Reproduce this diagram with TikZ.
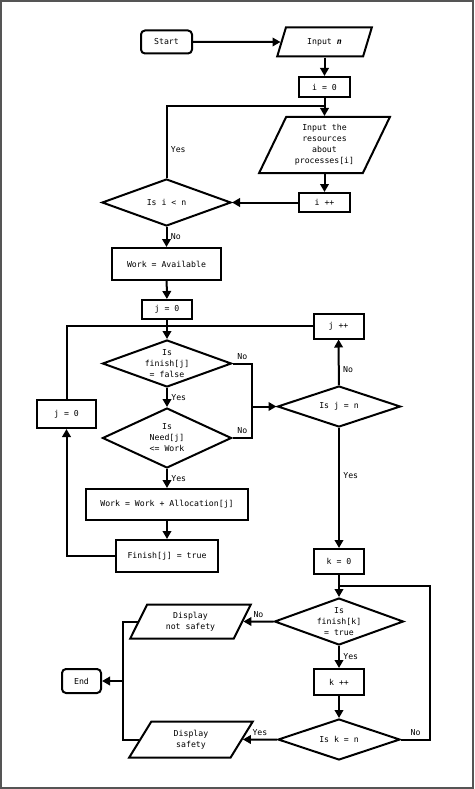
\documentclass[tikz,border=0pt]{standalone}
\usepackage{fontspec}
\setmainfont{DejaVu Sans Mono}
\usetikzlibrary{shapes.geometric, arrows.meta}
\definecolor{frameGray}{RGB}{85,85,85}

\begin{document}
\begin{tikzpicture}[
    x=1pt, y=-1pt,
    font=\fontsize{8.2}{11}\selectfont,
    terminal/.style={
        rectangle,
        rounded corners=4pt,
        draw,
        line width=2pt,
        inner sep=0pt,
        minimum height=23pt
    },
    process/.style={
        rectangle,
        draw,
        line width=2pt,
        inner sep=0pt,
        align=center
    },
    io/.style={
        trapezium,
        trapezium left angle=63,
        trapezium right angle=117,
        trapezium stretches=true,
        draw,
        line width=2pt,
        inner sep=0pt,
        align=center
    },
    decision/.style={
        diamond,
        aspect=2.7,
        draw,
        line width=2pt,
        inner sep=0pt,
        align=center
    },
    flow/.style={line width=2pt, -{Triangle[length=8pt, width=8.5pt]}},
    link/.style={line width=2pt}
]
    \useasboundingbox (0,0) rectangle (474,789);
    \draw[frameGray, line width=2.4] (1.2,1.2) rectangle (472.8,787.8);

    % Reading the input
    \node[terminal, minimum width=51] (start) at (166.5,42) {Start};
    \node[io, minimum width=95, minimum height=29] (inputn) at (324.5,42) {Input \textbf{\textit{n}}};
    \node[process, minimum width=51, minimum height=20] (izero) at (324.5,87) {i = 0};
    \node[io, minimum width=131, minimum height=56] (inres) at (324.5,145) {Input the\\resources\\about\\processes[i]};
    \node[process, minimum width=51, minimum height=19] (iinc) at (324.5,202.5) {i ++};
    \node[decision, minimum width=129, minimum height=47] (ilt) at (166.5,202.5) {Is i < n};

    % Safety loop over j
    \node[process, minimum width=109, minimum height=32] (workav) at (166.5,264) {Work = Available};
    \node[process, minimum width=50, minimum height=19] (jzero) at (167,309.5) {j = 0};
    \node[process, minimum width=50, minimum height=25] (jinc) at (338.5,326) {j ++};
    \node[decision, minimum width=129, minimum height=47] (finj) at (167,363.5) {Is\\finish[j]\\= false};
    \node[decision, minimum width=123, minimum height=41] (jeqn) at (339,406.5) {Is j = n};
    \node[decision, minimum width=129, minimum height=60] (needj) at (167,438) {Is\\Need[j]\\<= Work};
    \node[process, minimum width=162, minimum height=31] (workadd) at (167,504.5) {Work = Work + Allocation[j]};
    \node[process, minimum width=102, minimum height=32] (finset) at (167,556) {Finish[j] = true};
    \node[process, minimum width=59, minimum height=28] (jreset) at (66.5,414) {j = 0};

    % Checking every k
    \node[process, minimum width=50, minimum height=25] (kzero) at (339,561.5) {k = 0};
    \node[decision, minimum width=129, minimum height=47] (fink) at (339,621.5) {Is\\finish[k]\\= true};
    \node[io, minimum width=121, minimum height=34] (notsafe) at (190.5,621.5) {Display\\not safety};
    \node[process, minimum width=50, minimum height=26] (kinc) at (339,682) {k ++};
    \node[decision, minimum width=122, minimum height=41] (keqn) at (339,739.5) {Is k = n};
    \node[io, minimum width=124, minimum height=36] (safe) at (191,739.5) {Display\\safety};
    \node[terminal, minimum width=39, minimum height=24] (finish) at (81.5,681) {End};

    % Junctions
    \coordinate (iloop) at (324.5,106);
    \coordinate (jloop) at (167,326);
    \coordinate (jmerge) at (252,406.5);
    \coordinate (kloop) at (339,586);
    \coordinate (kright) at (430,586);
    \coordinate (endjoin) at (123,681);

    % Connectors
    \draw[flow] (start) -- (inputn);
    \draw[flow] (inputn) -- (izero);
    \draw[flow] (izero) -- (inres);
    \draw[flow] (inres) -- (iinc);
    \draw[flow] (iinc) -- (ilt);
    \draw[link] (ilt) |- node[pos=0.2, right] {Yes} (iloop);
    \draw[flow] (ilt) -- node[right] {No} (workav);
    \draw[flow] (workav) -- (jzero);
    \draw[flow] (jzero) -- (finj);
    \draw[link] (jinc) -- (jloop);
    \draw[link] (jreset) |- (jloop);
    \draw[link] (finj) -| node[pos=0.25, above] {No} (jmerge);
    \draw[link] (needj) -| node[pos=0.25, above] {No} (jmerge);
    \draw[flow] (jmerge) -- (jeqn);
    \draw[flow] (jeqn) -- node[pos=0.35, right] {No} (jinc);
    \draw[flow] (jeqn) -- node[pos=0.4, right] {Yes} (kzero);
    \draw[flow] (finj) -- node[right] {Yes} (needj);
    \draw[flow] (needj) -- node[right] {Yes} (workadd);
    \draw[flow] (workadd) -- (finset);
    \draw[flow] (finset) -| (jreset);
    \draw[flow] (kzero) -- (fink);
    \draw[flow] (fink) -- node[above] {No} (notsafe);
    \draw[flow] (fink) -- node[right] {Yes} (kinc);
    \draw[flow] (kinc) -- (keqn);
    \draw[link] (keqn) -| node[pos=0.25, above] {No} (kright) -- (kloop);
    \draw[flow] (keqn) -- node[above] {Yes} (safe);
    \draw[link] (notsafe) -| (endjoin);
    \draw[link] (safe) -| (endjoin);
    \draw[flow] (endjoin) -- (finish);

\end{tikzpicture}
\end{document}
